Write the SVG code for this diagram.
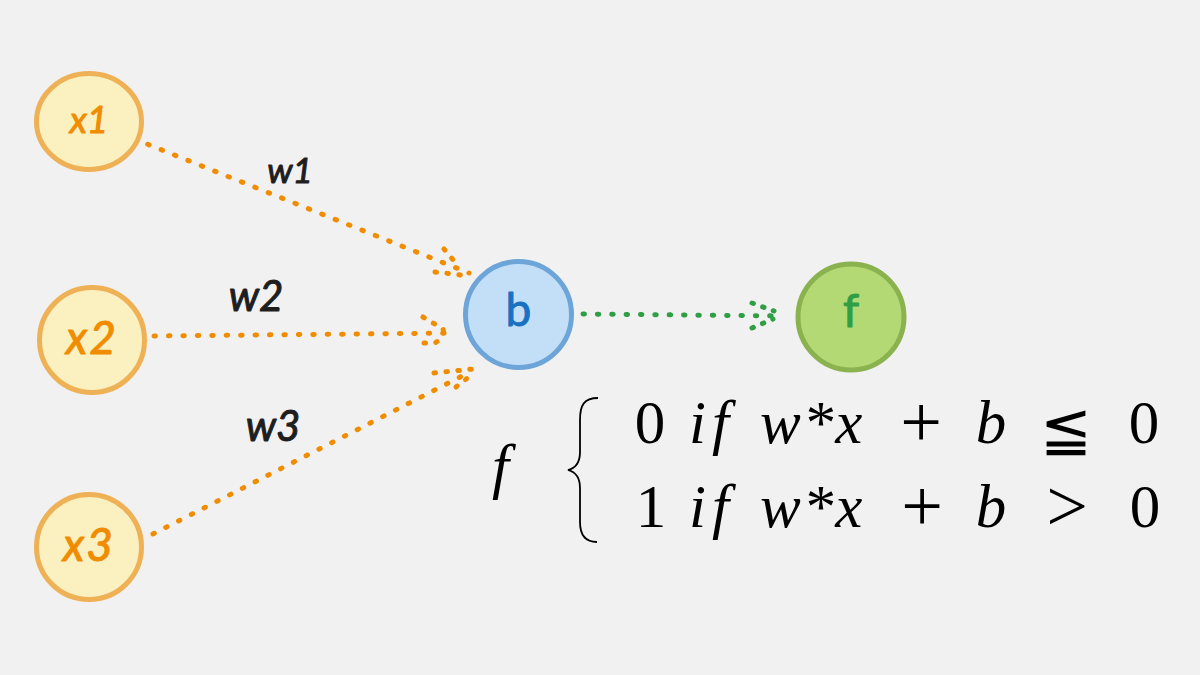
<svg xmlns="http://www.w3.org/2000/svg" width="1200" height="675" viewBox="0 0 1200 675">
<style>
.in{fill:#faf0c0;stroke:#eeb155;stroke-width:5}
.d{fill:none;stroke-width:5;stroke-linecap:round}
.o{stroke:#f08c00}.g{stroke:#2f9e44}
.bb{stroke-dasharray:1.500 10.500}
.h{font-family:"Lato","Open Sans",sans-serif;font-style:italic;font-weight:400;text-anchor:middle;stroke-width:1;stroke-linejoin:round}
.u{font-style:normal}
.yo{fill:#f08c00;stroke:#f08c00}
.k{fill:#1e1e1e;stroke:#1e1e1e}
.m{font-family:"Liberation Serif",serif;font-size:61px;fill:#000}
.i{font-style:italic}
.c{text-anchor:middle}
.big{font-size:74px}
</style>
<rect width="1200" height="675" fill="#f1f1f1"/>
<g id="connectors">
<path class="d o" stroke-dasharray="1.500 12.920" d="M147.700 144.300L469 273"/>
<path class="d o bb" d="M444 249L459 267M435 272L461 275"/>
<path class="d o" stroke-dasharray="1.500 12.930" d="M154 336L457 333"/>
<path class="d o bb" d="M423 317L443 329L445 337M424 343L435 343L445 336"/>
<path class="d o" stroke-dasharray="1.500 12.830" d="M153 534L472 371"/>
<path class="d o bb" d="M434 373L473 369M456 387L474 373"/>
<path class="d g" stroke-dasharray="1.500 12.860" d="M583 314L784 316"/>
<path class="d g" stroke-dasharray="1.500 9.800" d="M752 303L774 311M752 328L773 319"/>
</g>
<g id="x1"><ellipse class="in" cx="89" cy="121.500" rx="52.500" ry="48"/><text class="h yo" x="89" y="133" font-size="37">x1</text></g>
<g id="x2"><circle class="in" cx="92" cy="340" r="52.500"/><text class="h yo" x="92" y="354" font-size="46" letter-spacing="2">x2</text></g>
<g id="x3"><circle class="in" cx="89" cy="547" r="52.500"/><text class="h yo" x="89" y="561" font-size="46" letter-spacing="2">x3</text></g>
<g id="b"><circle cx="518.500" cy="314.500" r="53" fill="#c3dff8" stroke="#6ea5d8" stroke-width="5"/><text class="h u" x="518.500" y="326" font-size="46" fill="#1971c2" stroke="#1971c2">b</text></g>
<g id="f"><circle cx="851" cy="317" r="53" fill="#b2d973" stroke="#8ab24e" stroke-width="5"/><text class="h u" x="851" y="327" font-size="46" fill="#2f9e44" stroke="#2f9e44">f</text></g>
<g id="labels">
<text class="h k" x="290" y="183" font-size="35">w1</text>
<text class="h k" x="256" y="311" font-size="42">w2</text>
<text class="h k" x="273" y="441" font-size="42">w3</text>
</g>
<g id="formula">
<text class="m i" x="492" y="487">f</text>
<path d="M598 398C584 398 580 405 580 420V452C580 462 576 468 568 470C576 472 580 478 580 488V522C580 535 585 542 597 542" fill="none" stroke="#000" stroke-width="1.800"/>
<text class="m c" x="650" y="443">0</text>
<text class="m i" x="689" y="443" letter-spacing="6">if</text>
<text class="m i" x="760" y="443" letter-spacing="2">w*x</text>
<text class="m c big" x="921" y="447">+</text>
<text class="m i c" x="991" y="443">b</text>
<text class="m c" x="1066" y="450" style="font-family:'DejaVu Serif',serif;font-size:62px">≦</text>
<text class="m c" x="1144" y="443">0</text>
<text class="m c" x="651" y="527">1</text>
<text class="m i" x="689" y="527" letter-spacing="6">if</text>
<text class="m i" x="760" y="527" letter-spacing="2">w*x</text>
<text class="m c big" x="922" y="531">+</text>
<text class="m i c" x="991" y="527">b</text>
<text class="m c big" x="1067" y="531">&gt;</text>
<text class="m c" x="1145" y="527">0</text>
</g>
</svg>
